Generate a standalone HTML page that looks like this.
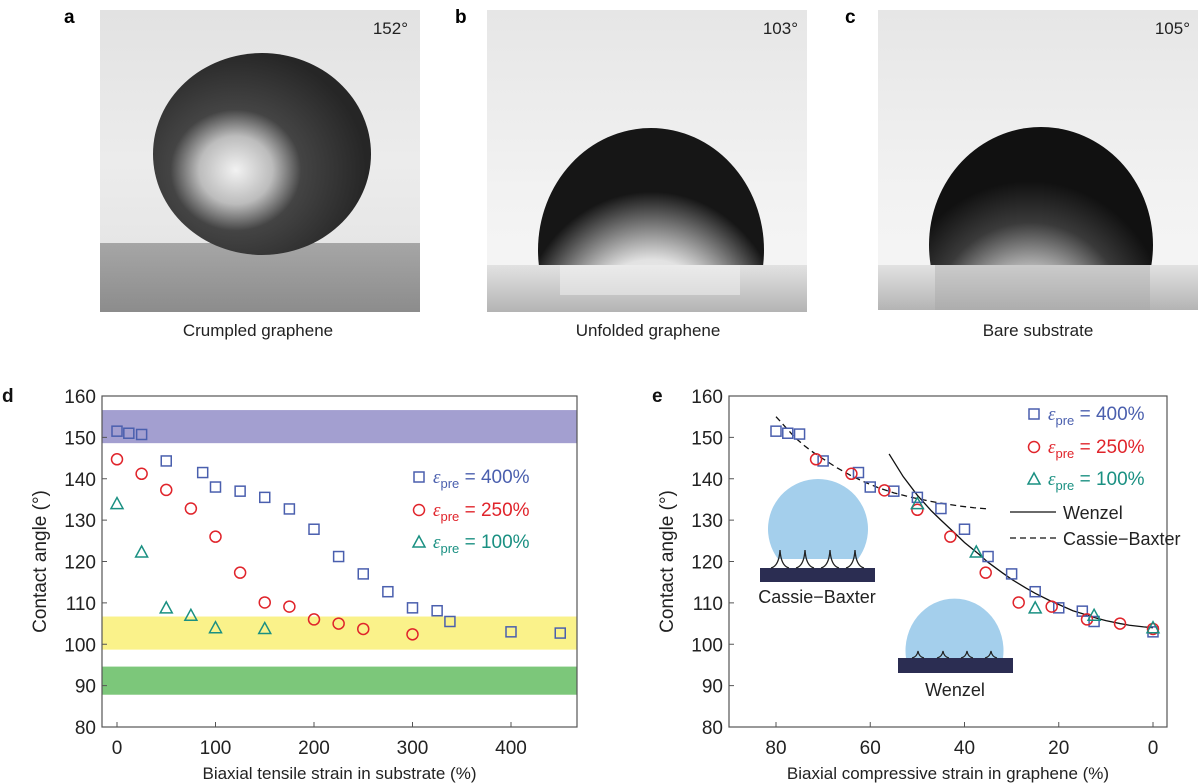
<!DOCTYPE html>
<html><head><meta charset="utf-8"><style>
body{margin:0;background:#fff;width:1200px;height:784px;overflow:hidden}
svg{display:block;font-family:"Liberation Sans",sans-serif}
</style></head><body>
<svg width="1200" height="784" viewBox="0 0 1200 784">
<defs>
<linearGradient id="bg" x1="0" y1="0" x2="0" y2="1"><stop offset="0" stop-color="#e2e2e2"/><stop offset="0.5" stop-color="#ececec"/><stop offset="0.78" stop-color="#e6e6e6"/><stop offset="1" stop-color="#dcdcdc"/></linearGradient>
<linearGradient id="bg2" x1="0" y1="0" x2="0" y2="1"><stop offset="0" stop-color="#e6e6e6"/><stop offset="0.6" stop-color="#f2f2f2"/><stop offset="1" stop-color="#f6f6f6"/></linearGradient>
<linearGradient id="gnd" x1="0" y1="0" x2="0" y2="1"><stop offset="0" stop-color="#a6a6a6"/><stop offset="1" stop-color="#8c8c8c"/></linearGradient>
<linearGradient id="gnd2" x1="0" y1="0" x2="0" y2="1"><stop offset="0" stop-color="#e2e2e2"/><stop offset="1" stop-color="#b4b4b4"/></linearGradient>
<radialGradient id="dropA" cx="0.38" cy="0.58" r="0.6"><stop offset="0" stop-color="#f2f2f2"/><stop offset="0.28" stop-color="#bcbcbc"/><stop offset="0.5" stop-color="#444"/><stop offset="1" stop-color="#262626"/></radialGradient>
<radialGradient id="dropB" cx="0.5" cy="0.85" r="0.62"><stop offset="0" stop-color="#ffffff"/><stop offset="0.5" stop-color="#e2e2e2"/><stop offset="0.8" stop-color="#5a5a5a"/><stop offset="0.95" stop-color="#161616"/></radialGradient>
<radialGradient id="dropC" cx="0.45" cy="0.85" r="0.62"><stop offset="0" stop-color="#ffffff"/><stop offset="0.35" stop-color="#d0d0d0"/><stop offset="0.72" stop-color="#3a3a3a"/><stop offset="1" stop-color="#111"/></radialGradient>
<clipPath id="ca"><rect x="100" y="10" width="320" height="302"/></clipPath>
<clipPath id="cb"><rect x="487" y="10" width="320" height="302"/></clipPath>
<clipPath id="cc"><rect x="878" y="10" width="320" height="300"/></clipPath>
<clipPath id="cb2"><rect x="487" y="10" width="320" height="255"/></clipPath>
<clipPath id="cc2"><rect x="878" y="10" width="320" height="255"/></clipPath>
</defs>

<g clip-path="url(#ca)">
<rect x="100" y="10" width="320" height="302" fill="url(#bg)"/>
<rect x="100" y="243" width="320" height="69" fill="url(#gnd)"/>
<ellipse cx="262" cy="154" rx="109" ry="101" fill="url(#dropA)"/>
</g>
<text x="64" y="23" font-size="19" font-weight="bold">a</text>
<text x="408" y="34" font-size="17" text-anchor="end" fill="#222">152°</text>
<text x="258" y="336" font-size="17" text-anchor="middle" fill="#222">Crumpled graphene</text>

<g clip-path="url(#cb)">
<rect x="487" y="10" width="320" height="302" fill="url(#bg2)"/>
<rect x="487" y="265" width="320" height="47" fill="url(#gnd2)"/>
<g clip-path="url(#cb2)"><ellipse cx="651" cy="250" rx="113" ry="122" fill="url(#dropB)"/></g>
<rect x="560" y="265" width="180" height="30" fill="#f4f4f4" opacity="0.5"/>
</g>
<text x="455" y="23" font-size="19" font-weight="bold">b</text>
<text x="798" y="34" font-size="17" text-anchor="end" fill="#222">103°</text>
<text x="648" y="336" font-size="17" text-anchor="middle" fill="#222">Unfolded graphene</text>

<g clip-path="url(#cc)">
<rect x="878" y="10" width="320" height="300" fill="url(#bg2)"/>
<rect x="878" y="265" width="320" height="45" fill="url(#gnd2)"/>
<g clip-path="url(#cc2)"><ellipse cx="1041" cy="245" rx="112" ry="118" fill="url(#dropC)"/></g>
<rect x="935" y="265" width="215" height="45" fill="#a0a0a0" opacity="0.35"/>
</g>
<text x="845" y="23" font-size="19" font-weight="bold">c</text>
<text x="1190" y="34" font-size="17" text-anchor="end" fill="#222">105°</text>
<text x="1038" y="336" font-size="17" text-anchor="middle" fill="#222">Bare substrate</text>

<g id="chartD"></g>
<g id="chartE"></g>
</svg>
<script>
const NS='http://www.w3.org/2000/svg';
const yTicks=[80,90,100,110,120,130,140,150,160];
const dXTicks=[0,100,200,300,400];
const d400x=[0,12,25,50,87,100,125,150,175,200,225,250,275,300,325,338,400,450];
const d400y=[151.5,151,150.7,144.3,141.5,138,137,135.5,132.7,127.8,121.2,117,112.7,108.8,108.1,105.5,103,102.7];
const d250x=[0,25,50,75,100,125,150,175,200,225,250,300];
const d250y=[144.7,141.2,137.3,132.8,126,117.3,110.1,109.1,106,105,103.7,102.4];
const d100x=[0,25,50,75,100,150];
const d100y=[134,122.3,108.8,107,104,103.8];
const bandLow=[148.6,98.7,87.8];
const bandHigh=[156.6,106.7,94.6];
const eXTicks=[80,60,40,20,0];
const e400x=[80,77.5,75,70,62.5,60,55,50,45,40,35,30,25,20,15,12.5,0];
const e400y=[151.5,151,150.8,144.3,141.5,138,137,135.5,132.8,127.8,121.2,117,112.7,108.8,108,105.5,103];
const e250x=[71.5,64,57,50,43,35.5,28.5,21.5,14,7,0];
const e250y=[144.7,141.2,137.2,132.5,126,117.3,110.1,109.1,106,105,103.7];
const e100x=[50,37.5,25,12.5,0];
const e100y=[134,122.3,108.8,107,104];
const wenzelX=[56,53,50,47,45,42,40,37,35,32,30,27,25,22,20,17,15,12,10,7,5,2,0];
const wenzelY=[146,140.5,136,132.2,130,126.8,124.6,121.8,119.8,117.3,115.7,113.6,112.3,110.6,109.6,108.1,107.4,106.3,105.7,105,104.6,104.2,104];
const cassieX=[80,78,76,74,72,70,67,64,61,58,55,52,50,47,44,41,38,35];
const cassieY=[155,152.5,150,148,146.3,144.8,142.6,140.7,139.1,137.7,136.6,135.7,135.2,134.5,133.9,133.4,133,132.7];
const C400='#4a5fae',C250='#e0242b',C100='#1a9082';

function el(t,a,p){const e=document.createElementNS(NS,t);for(const k in a)e.setAttribute(k,a[k]);p.appendChild(e);return e;}
function txt(p,x,y,s,size,anchor,fill){const t=el('text',{x:x,y:y,'font-size':size,'text-anchor':anchor||'start',fill:fill||'#222'},p);t.textContent=s;return t;}
const Y=v=>396+(160-v)*(331/80);
function marker(p,kind,x,y,c){
 let m;
 if(kind==='sq') m=el('rect',{x:x-5,y:y-5,width:10,height:10,fill:'none',stroke:c,'stroke-width':1.5},p);
 else if(kind==='ci') m=el('circle',{cx:x,cy:y,r:5.5,fill:'none',stroke:c,'stroke-width':1.5},p);
 else m=el('path',{d:`M${x-6},${y+5}L${x+6},${y+5}L${x},${y-6}Z`,fill:'none',stroke:c,'stroke-width':1.5},p);
 return m;
}
function legend(p,x,y,kind,c,val){
 const g=el('g',{},p);
 
 
 marker(g,kind,x,y-6,c);
 const t=el('text',{x:x+14,y:y,'font-size':19,fill:c},g);
 const a=document.createElementNS(NS,'tspan');a.setAttribute('font-style','italic');a.setAttribute('font-family','Liberation Serif, serif');a.textContent='ε';t.appendChild(a);
 const b=document.createElementNS(NS,'tspan');b.setAttribute('font-size','13');b.setAttribute('dy','5');b.textContent='pre';t.appendChild(b);
 const d=document.createElementNS(NS,'tspan');d.setAttribute('dy','-5');d.textContent=' = '+val+'%';t.appendChild(d);
}
function axes(p,L,R,label,xTicks,X,xlab,panel){
 const f=el('rect',{x:L,y:396,width:R-L,height:331,fill:'none',stroke:'#555','stroke-width':1.2},p);
 
 
 yTicks.forEach(v=>{
  el('line',{x1:L,x2:L+5,y1:Y(v),y2:Y(v),stroke:'#555'},p);
  const t=txt(p,L-6,Y(v)+7,String(v),19,'end');
  
  
 });
 xTicks.forEach(v=>{
  el('line',{x1:X(v),x2:X(v),y1:727,y2:722,stroke:'#555'},p);
  const t=txt(p,X(v),754,String(v),19,'middle');
  
  
 });
 const xt=txt(p,(L+R)/2,779,xlab,17,'middle');
 
 
 const yt=txt(p,0,0,'Contact angle (°)',19,'middle');
 yt.setAttribute('transform',`translate(${L-56},${(396+727)/2}) rotate(-90)`);
 
 
 const pl=el('text',{x:panel==='d'?2:652,y:402,'font-size':19,'font-weight':'bold',fill:'#111'},p);pl.textContent=panel;
 
 
}
function series(p,xs,ys,X,kind,c,name){
 const g=el('g',{},p);
 
 
 xs.forEach((x,i)=>{const m=marker(g,kind,X(x),Y(ys[i]),c);
  
  });
}
(function(){
 const p=document.getElementById('chartD');
 const L=102,R=577;const X=v=>117+v*0.985;
 const cols=['#a39fd0','#faf28a','#7cc77a'];
 bandLow.forEach((lo,i)=>{const b=el('rect',{x:L,y:Y(bandHigh[i]),width:R-L,height:Y(lo)-Y(bandHigh[i]),fill:cols[i]},p);
  
  });
 axes(p,L,R,'',dXTicks,X,'Biaxial tensile strain in substrate (%)','d');
 series(p,d400x,d400y,X,'sq',C400,'series-400');
 series(p,d250x,d250y,X,'ci',C250,'series-250');
 series(p,d100x,d100y,X,'tr',C100,'series-100');
 legend(p,419,483,'sq',C400,400);
 legend(p,419,516,'ci',C250,250);
 legend(p,419,548,'tr',C100,100);
})();
(function(){
 const p=document.getElementById('chartE');
 const L=729,R=1167;const X=v=>1153-v*(377/80);
 axes(p,L,R,'',eXTicks,X,'Biaxial compressive strain in graphene (%)','e');
 const g1=el('g',{},p);
 
 
 el('path',{d:'M778,559 A50,50 0 1 1 858,559 Z',fill:'#a4cfec'},g1);
 el('rect',{x:760,y:568,width:115,height:14,fill:'#2b2d52'},g1);
 [780,805,830,855].forEach(x=>el('path',{d:`M${x-9},568 Q${x-1},566 ${x},550 Q${x+1},566 ${x+9},568`,fill:'none',stroke:'#222','stroke-width':1.3},g1));
 txt(g1,817,603,'Cassie−Baxter',18,'middle');
 const g2=el('g',{},p);
 
 
 el('path',{d:'M906,658 A49,52 0 1 1 1003,658 Z',fill:'#a4cfec'},g2);
 el('rect',{x:898,y:658,width:115,height:15,fill:'#2b2d52'},g2);
 [918,943,967,991].forEach(x=>el('path',{d:`M${x-6},658 Q${x-1},657 ${x},651 Q${x+1},657 ${x+6},658`,fill:'none',stroke:'#222','stroke-width':1.2},g2));
 txt(g2,955,696,'Wenzel',18,'middle');
 const wp=el('path',{d:wenzelX.map((x,i)=>(i?'L':'M')+X(x)+','+Y(wenzelY[i])).join(''),fill:'none',stroke:'#111','stroke-width':1.3},p);
 
 
 const cp=el('path',{d:cassieX.map((x,i)=>(i?'L':'M')+X(x)+','+Y(cassieY[i])).join(''),fill:'none',stroke:'#111','stroke-width':1.3,'stroke-dasharray':'6,4'},p);
 
 
 series(p,e400x,e400y,X,'sq',C400,'series-400');
 series(p,e250x,e250y,X,'ci',C250,'series-250');
 series(p,e100x,e100y,X,'tr',C100,'series-100');
 legend(p,1034,420,'sq',C400,400);
 legend(p,1034,453,'ci',C250,250);
 legend(p,1034,485,'tr',C100,100);
 const lw=el('g',{},p);
 
 
 el('line',{x1:1010,x2:1056,y1:512,y2:512,stroke:'#111','stroke-width':1.3},lw);
 txt(lw,1063,519,'Wenzel',18);
 const lc=el('g',{},p);
 
 
 el('line',{x1:1010,x2:1056,y1:538,y2:538,stroke:'#111','stroke-width':1.3,'stroke-dasharray':'6,4'},lc);
 txt(lc,1063,545,'Cassie−Baxter',18);
})();
</script>
</body></html>
